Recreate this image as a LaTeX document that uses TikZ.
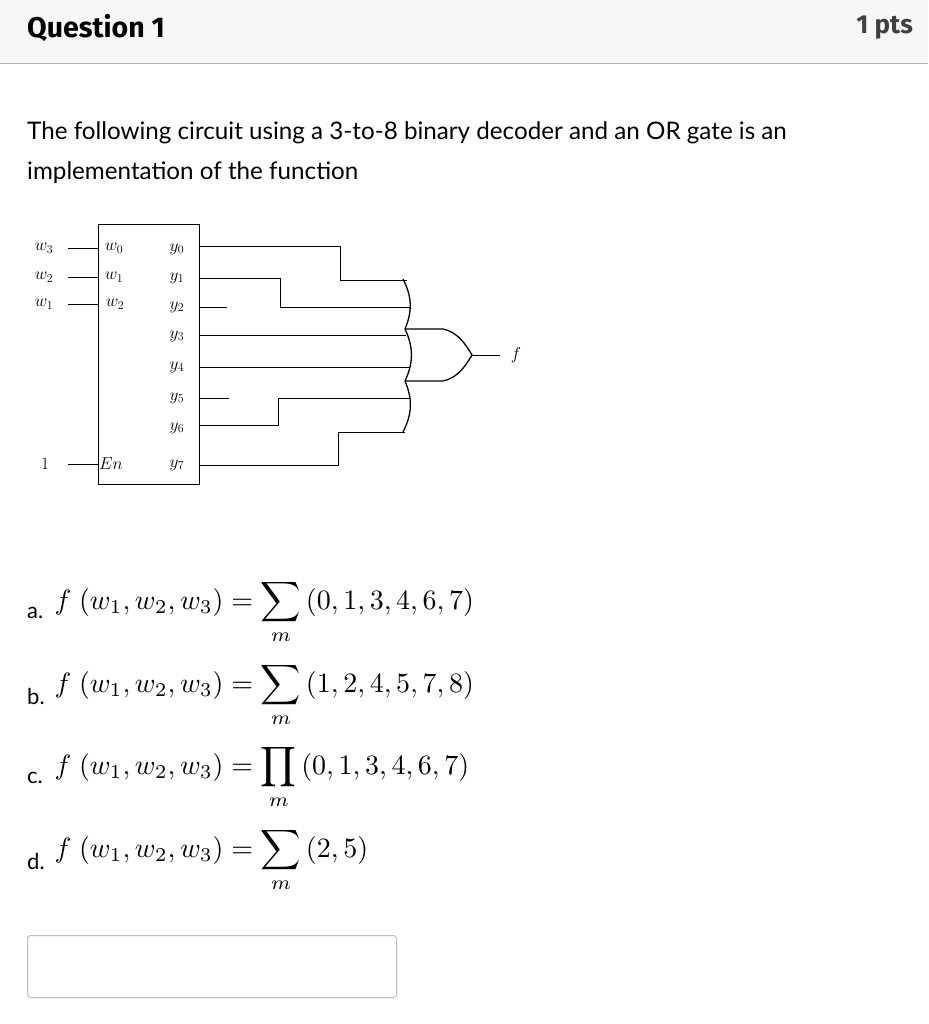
\documentclass[tikz,border=0pt]{standalone}
\usepackage{fontspec}
\setmainfont{Lato}
\newfontfamily\hdfont{Fira Sans}
\begin{document}
\begin{tikzpicture}[x=1pt,y=-1pt,
  wire/.style={line width=0.9pt},
  lbl/.style={inner sep=0pt,font=\fontsize{17}{17}\selectfont},
  body/.style={inner sep=0pt,anchor=west,font=\fontsize{24.2}{29}\selectfont},
  opt/.style={inner sep=0pt,anchor=west,scale=2.8}]
\useasboundingbox (0,0) rectangle (928,1024);
\fill[white] (0,0) rectangle (928,1024);
\fill[black!3] (0,0) rectangle (928,63);
\draw[black!30] (0,63.5) -- (928,63.5);
\node[inner sep=0pt,anchor=west,font=\hdfont\bfseries\fontsize{28.5}{32}\selectfont] (q) at (27,28) {Question 1};
\node[inner sep=0pt,anchor=east,font=\hdfont\bfseries\fontsize{26}{30}\selectfont,text=black!75] (p) at (913,28) {1 pts};
\node[body] (t1) at (27,133) {The following circuit using a 3-to-8 binary decoder and an OR gate is an};
\node[body] (t2) at (27,173) {implementation of the function};
% decoder
\node[draw,line width=1.3pt,minimum width=101pt,minimum height=260pt,anchor=north west,inner sep=0pt] (dec) at (98,224) {};
\foreach \n/\t/\y in {a/w_3/248,b/w_2/277,c/w_1/304} {
  \node[lbl] (\n) at (44,\y) {$\t$};
  \coordinate (\n i) at (98,\y);
  \draw[wire] (68,\y) -- (\n i);
}
\node[lbl] (wa) at (114,248) {$w_0$};
\node[lbl] (wb) at (114,277) {$w_1$};
\node[lbl] (wc) at (115,304) {$w_2$};
\node[lbl] (one) at (45,464) {$1$};
\coordinate (eni) at (98,464);
\draw[wire] (68,464) -- (eni);
\node[lbl] (en) at (111,464) {$En$};
\foreach \i/\y in {0/249,1/278,2/307,3/336,4/367,5/398,6/428,7/465}
  \node[lbl] (y\i) at (177,\y) {$y_\i$};
\foreach \i/\y in {0/246,1/278,2/307,3/335,4/367,5/398,6/425,7/465}
  \coordinate (o\i) at (199,\y);
% OR gate
\coordinate (g1) at (403,279);
\coordinate (g2) at (405,329);
\coordinate (g3) at (405,381);
\coordinate (g4) at (403,432);
\coordinate (out) at (472,355);
\draw[line width=1.3pt] (g1) to[bend left=25] (g2) to[bend left=25] (g3) to[bend left=25] (g4);
\draw[line width=1.3pt] (g2) -- (443,329) .. controls (458,332) and (466,345) .. (out)
  .. controls (466,365) and (458,378) .. (443,381) -- (g3);
\coordinate (fo) at (500,355);
\draw[wire] (out) -- (fo);
\node[lbl] (f) at (516,355) {$f$};
\draw[wire] (o0) -- (340,246) -- (340,280) -- (407,280);
\draw[wire] (o1) -- (280,278) -- (280,307) -- (411,307);
\draw[wire] (o2) -- (227,307);
\draw[wire] (o3) -- (406,335);
\draw[wire] (o4) -- (410,367);
\draw[wire] (o5) -- (229,398);
\draw[wire] (o6) -- (278,425) -- (278,398) -- (411,398);
\draw[wire] (o7) -- (338,465) -- (338,432) -- (405,432);
% options
\node[body,font=\fontsize{22}{26}\selectfont] (la) at (27,613) {a.};
\node[opt] (ma) at (54,612) {$\displaystyle f\;(w_1,w_2,w_3)=\sum_m\,(0,1,3,4,6,7)$};
\node[body,font=\fontsize{22}{26}\selectfont] (lb) at (27,696) {b.};
\node[opt] (mb) at (54,695) {$\displaystyle f\;(w_1,w_2,w_3)=\sum_m\,(1,2,4,5,7,8)$};
\node[body,font=\fontsize{22}{26}\selectfont] (lc) at (27,778) {c.};
\node[opt] (mc) at (54,777) {$\displaystyle f\;(w_1,w_2,w_3)=\prod_m\,(0,1,3,4,6,7)$};
\node[body,font=\fontsize{22}{26}\selectfont] (ld) at (27,861) {d.};
\node[opt] (md) at (54,860) {$\displaystyle f\;(w_1,w_2,w_3)=\sum_m\,(2,5)$};
\node[draw=black!25,line width=1pt,rounded corners=3pt,minimum width=369pt,minimum height=62pt,anchor=north west,inner sep=0pt] (box) at (27,935) {};
\end{tikzpicture}
\end{document}
